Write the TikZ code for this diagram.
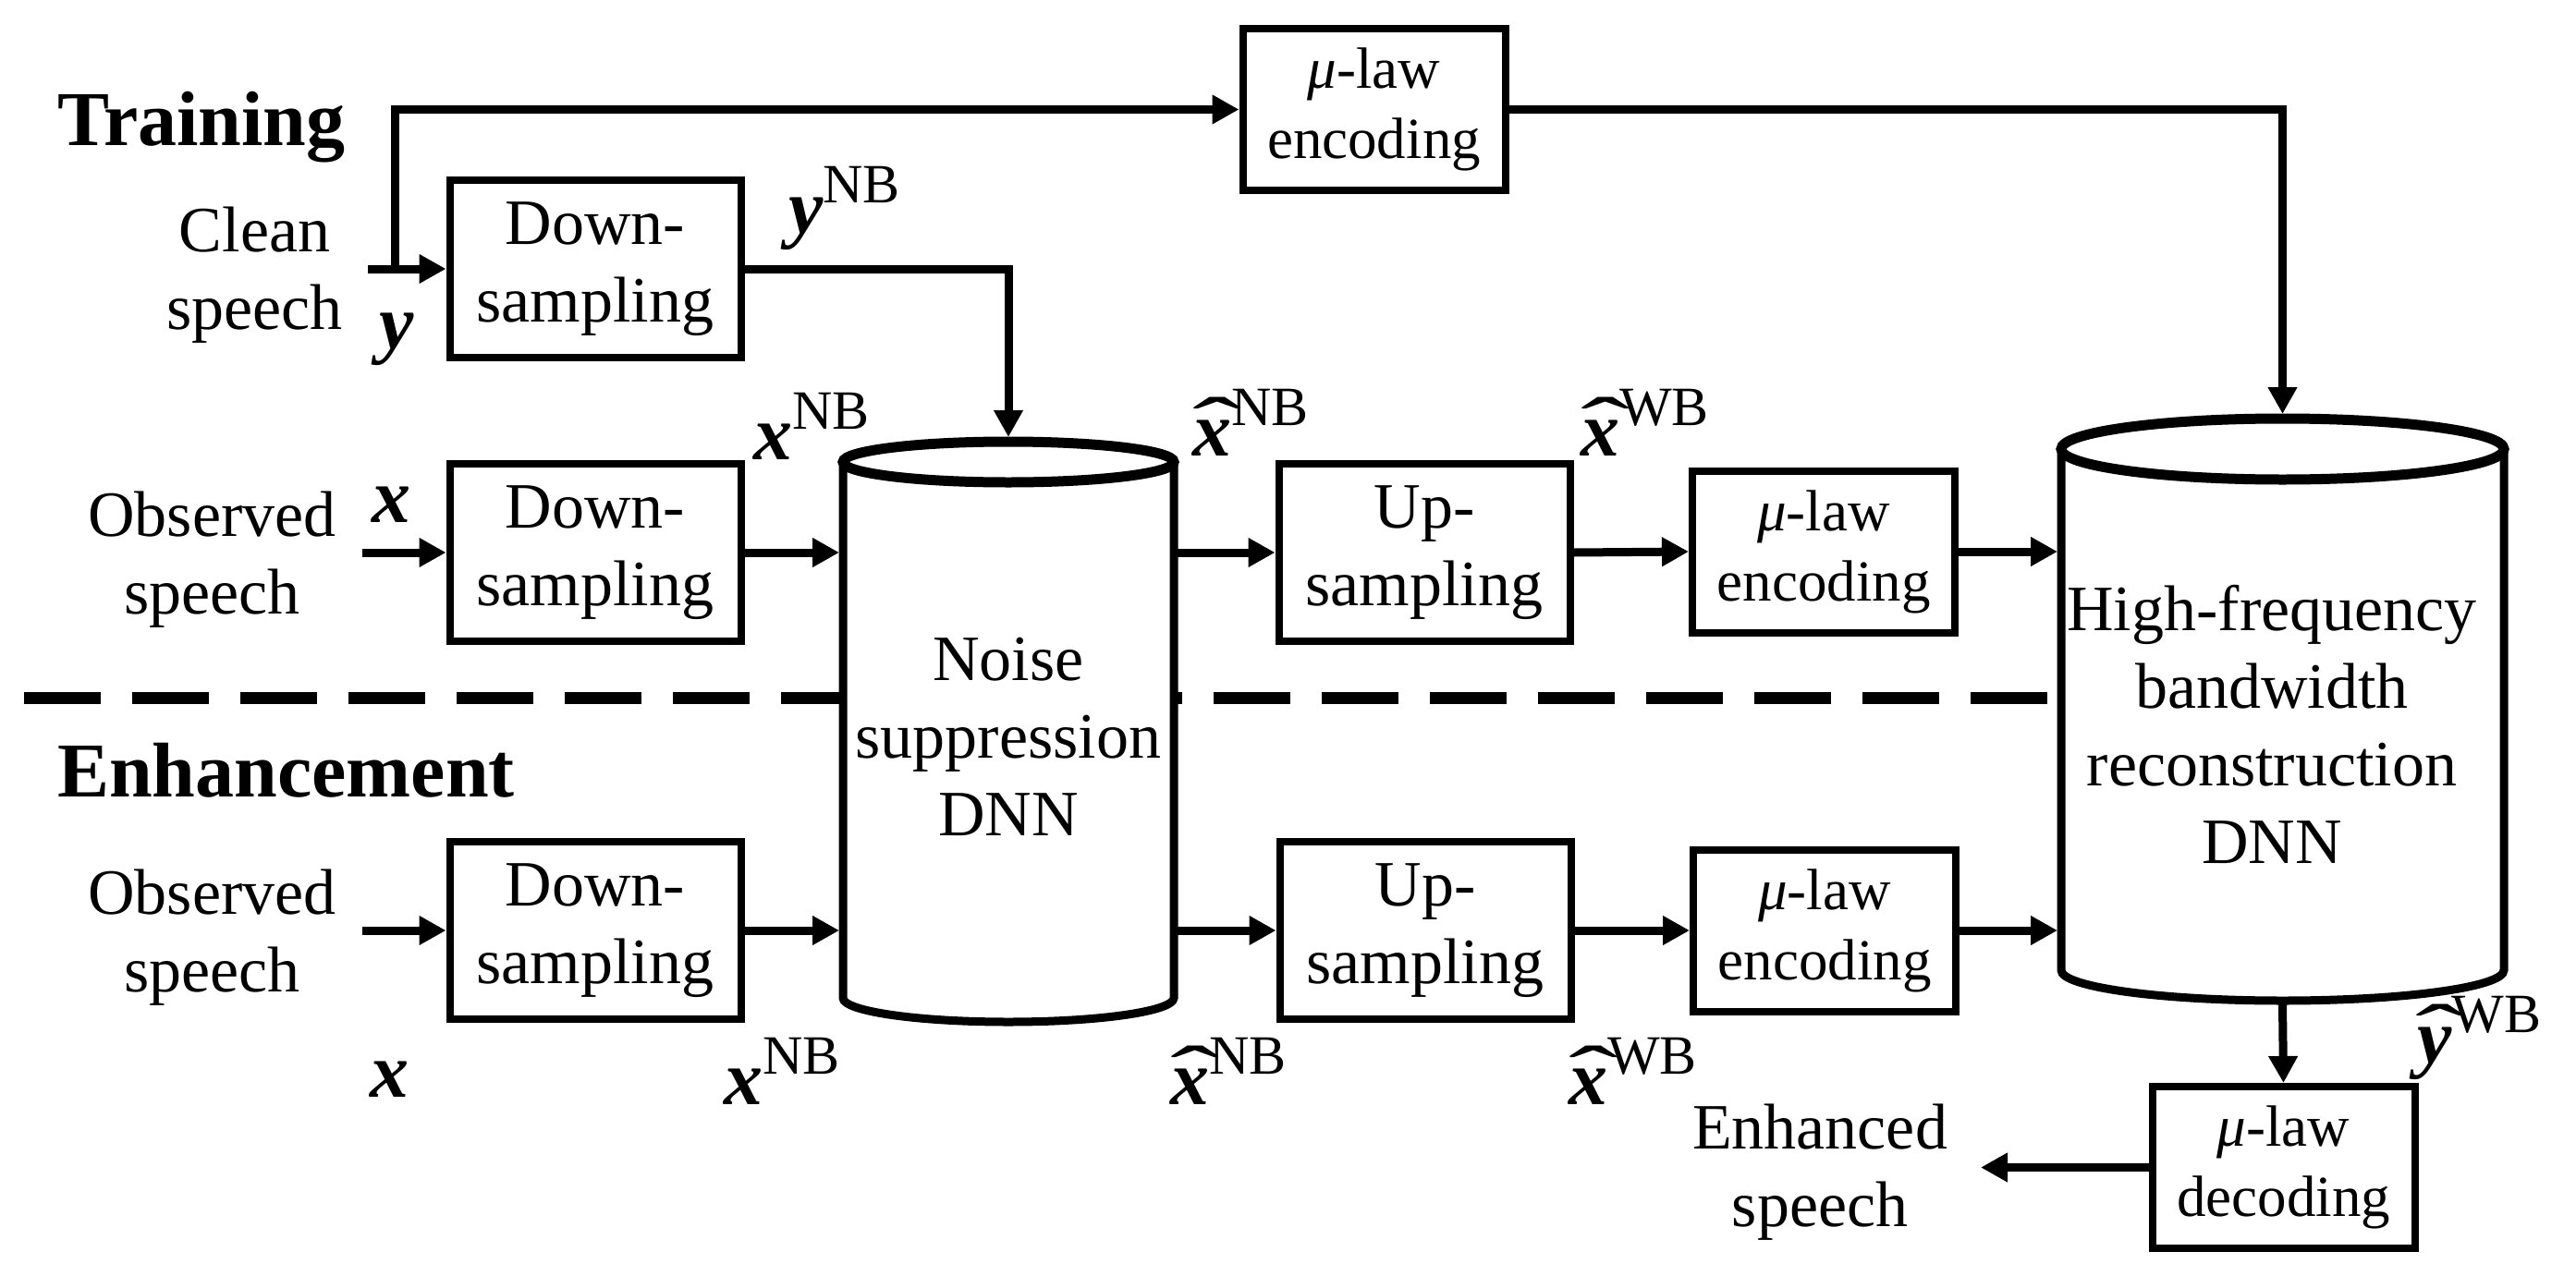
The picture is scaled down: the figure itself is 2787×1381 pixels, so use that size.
\documentclass[tikz,border=0pt]{standalone}
\usepackage{fontspec}
\setmainfont{Liberation Serif}
\usetikzlibrary{arrows.meta}
\newcommand\sv[1]{{\fontsize{84}{84}\selectfont\bfseries\itshape #1}}
\newcommand\supr[1]{\raisebox{33pt}{\fontsize{60}{60}\selectfont #1}}
\newcommand\hv[1]{\ooalign{\sv{#1}\cr\hidewidth\kern12pt\raisebox{5pt}{\scalebox{1.9}[1]{\fontsize{84}{84}\selectfont\char"02C6}}\hidewidth\cr}}
\newcommand\mul{\textit{μ}-law}
\begin{document}
\begin{tikzpicture}[x=1pt,y=-1pt,
  box/.style={draw, line width=8pt, inner sep=0pt, align=center, font=\fontsize{70}{84}\selectfont},
  dsbox/.style={box, minimum width=315pt, minimum height=192pt},
  mubox/.style={box, minimum width=284pt, minimum height=175pt, font=\fontsize{63}{76}\selectfont},
  cylnode/.style={inner sep=0pt, outer sep=0pt},
  cyl/.style={line width=9pt},
  cyltop/.style={line width=11pt},
  arr/.style={line width=9pt, -{Triangle[length=29pt,width=30pt]}},
  txt/.style={inner sep=0pt, align=center, font=\fontsize{70}{84}\selectfont},
  lbl/.style={inner sep=0pt, anchor=base west},
  head/.style={inner sep=0pt, anchor=base west, font=\fontsize{84}{84}\selectfont\bfseries}
]
\useasboundingbox (0,0) rectangle (2787,1381);

% cylinder nodes (for connectors)
\node[cylnode, minimum width=366pt, minimum height=637pt] (ns) at (1091,791.5) {};
\node[cylnode, minimum width=487pt, minimum height=639pt] (hf) at (2469.5,767.5) {};

% dashed separator
\coordinate (dl) at (26,755);
\draw[line width=13pt, dash pattern=on 83pt off 34pt] (dl) -- (dl -| hf.west);

% noise suppression cylinder
\fill[white] (912,500) rectangle (1270,1080);
\draw[cyl] (912,500) -- (912,1080) .. controls (912,1094.4) and (992.1,1106) .. (1091,1106)
  .. controls (1189.9,1106) and (1270,1094.4) .. (1270,1080) -- (1270,500);
\draw[cyltop] (1091,500) ellipse [x radius=179, y radius=22];

% HF reconstruction cylinder
\fill[white] (2230,486) rectangle (2709,1050);
\draw[cyl] (2230,486) -- (2230,1050) .. controls (2230,1068.2) and (2337.2,1083) .. (2469.5,1083)
  .. controls (2601.8,1083) and (2709,1068.2) .. (2709,1050) -- (2709,486);
\draw[cyltop] (2469.5,486) ellipse [x radius=239.5, y radius=33];

\node[txt] (nstxt) at (1091,797) {Noise\\suppression\\DNN};
\node[txt] (hftxt) at (2458,784) {High-frequency\\bandwidth\\reconstruction\\DNN};

% headings
\node[head] (train) at (62,157) {Training};
\node[head] (enh) at (62,862) {Enhancement};

% boxes
\node[dsbox] (ds1) at (644,291) {Down-\\sampling};
\node[mubox] (mu1) at (1486.5,118.5) {\mul\\encoding};
\node[dsbox] (ds2) at (644,598) {Down-\\sampling};
\node[dsbox] (up1) at (1541,598) {Up-\\sampling};
\node[mubox] (mu2) at (1973,597) {\mul\\encoding};
\node[dsbox] (ds3) at (644,1007) {Down-\\sampling};
\node[dsbox] (up2) at (1542,1007) {Up-\\sampling};
\node[mubox] (mu3) at (1974,1007) {\mul\\encoding};
\node[mubox] (dec) at (2470.5,1263.5) {\mul\\decoding};

% side texts
\node[txt] (cstxt) at (275.5,297.5) {Clean\\speech};
\node[txt] (obs1) at (229.5,605.5) {Observed\\speech};
\node[txt] (obs2) at (229.5,1014.5) {Observed\\speech};
\node[txt] (enhtxt) at (1969,1268.5) {Enhanced\\speech};

% labels
\node[lbl] (ylab) at (410,377) {\sv{y}};
\node[lbl] (ynb) at (853,252) {\sv{y}\supr{NB}};
\node[lbl] (xo1) at (402,565) {\sv{x}};
\node[lbl] (xnb1) at (815,497) {\sv{x}\supr{NB}};
\node[lbl] (xhnb1) at (1290,493) {\hv{x}\supr{NB}};
\node[lbl] (xhwb1) at (1710,493) {\hv{x}\supr{WB}};
\node[lbl] (xo2) at (400,1187) {\sv{x}};
\node[lbl] (xnb2) at (783,1195) {\sv{x}\supr{NB}};
\node[lbl] (xhnb2) at (1266,1195) {\hv{x}\supr{NB}};
\node[lbl] (xhwb2) at (1697,1195) {\hv{x}\supr{WB}};
\node[lbl] (yhwb) at (2615,1150) {\hv{y}\supr{WB}};

% connectors
\coordinate (cs) at (398,291);
\coordinate (jn) at (427,291);
\draw[arr] (cs) -- (ds1.west);
\draw[arr] (jn) |- (mu1.west);
\draw[arr] (ds1.east) -| (ns.north);
\draw[arr] (mu1.east) -| (hf.north);

\coordinate (o1) at (392,598);
\draw[arr] (o1) -- (ds2.west);
\draw[arr] (ds2.east) -- (ds2.east -| ns.west);
\draw[arr] (ns.east |- up1.west) -- (up1.west);
\draw[arr] (up1.east) -- (mu2.west);
\draw[arr] (mu2.east) -- (mu2.east -| hf.west);

\coordinate (o2) at (392,1007);
\draw[arr] (o2) -- (ds3.west);
\draw[arr] (ds3.east) -- (ds3.east -| ns.west);
\draw[arr] (ns.east |- up2.west) -- (up2.west);
\draw[arr] (up2.east) -- (mu3.west);
\draw[arr] (mu3.east) -- (mu3.east -| hf.west);

\draw[arr] (hf.south) -- (dec.north);
\coordinate (es) at (2143,1263.5);
\draw[arr] (dec.west) -- (es);
\end{tikzpicture}
\end{document}
